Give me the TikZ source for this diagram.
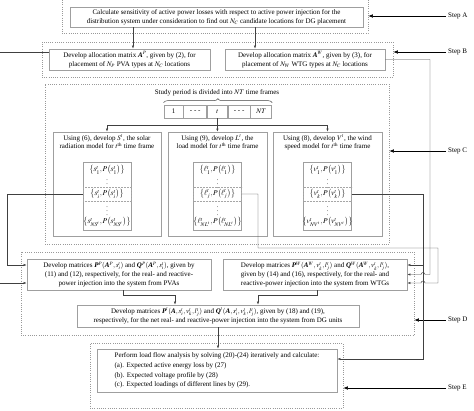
\documentclass[tikz,border=0pt]{standalone}
\usepackage{mathptmx}
\usepackage{fontspec}
\setmainfont{Liberation Serif}
\usetikzlibrary{positioning,arrows.meta,decorations.pathreplacing}

\newcommand{\bA}{\textbf{\textit{A}}}
\newcommand{\bP}{\textbf{\textit{P}}}
\newcommand{\bQ}{\textbf{\textit{Q}}}

\tikzset{
  procbox/.style={draw=gray!75, line width=0.9pt, fill=white, align=center, inner sep=0pt, font=\fontsize{7}{8.8}\selectfont},
  modelbox/.style={draw=gray!75, line width=0.9pt, fill=white, inner sep=0pt},
  boxtxt/.style={align=center, inner sep=0pt, font=\fontsize{7}{8.8}\selectfont},
  stepframe/.style={draw=gray!80, line width=0.7pt, dash pattern=on 0.7pt off 1.5pt, inner sep=0pt},
  selframe/.style={draw=gray!70, line width=0.5pt, dash pattern=on 0.5pt off 1pt, inner sep=0pt},
  conn/.style={-{Latex[length=3pt,width=2.4pt]}, draw=black!75, line width=0.45pt},
  wire/.style={draw=black!75, line width=0.45pt},
  steparrow/.style={-{Latex[length=4.5pt,width=3.5pt]}, line width=0.45pt},
  steplbl/.style={anchor=west, inner sep=2pt, font=\fontsize{7}{8}\selectfont},
  cell/.style={draw=gray!75, line width=0.7pt, minimum height=13pt, inner sep=0pt, font=\fontsize{7}{8}\selectfont},
  entry/.style={inner sep=0pt, font=\fontsize{7.5}{8}\selectfont},
  dots/.style={inner sep=0pt, font=\fontsize{6}{6}\selectfont},
}

\begin{document}
\begin{tikzpicture}[x=1pt,y=-1pt]
\useasboundingbox (0,0) rectangle (474,410);

% step frames
\node[stepframe, minimum width=306pt, minimum height=35pt] (frA) at (215,15.5) {};
\node[stepframe, minimum width=351pt, minimum height=35pt] (frB) at (217.5,59.5) {};
\node[stepframe, minimum width=344pt, minimum height=160pt] (frC) at (217,164) {};
\node[stepframe, minimum width=393pt, minimum height=83pt] (frD) at (217.5,293.5) {};
\node[stepframe, minimum width=253pt, minimum height=65pt] (frE) at (216.5,375.5) {};

% step A and B
\node[procbox, minimum width=293pt, minimum height=20pt] (boxA) at (216.5,17)
  {Calculate sensitivity of active power losses with respect to active power injection for the\\
   distribution system under consideration to find out $N_C$ candidate locations for DG placement};
\node[procbox, minimum width=161pt, minimum height=21pt] (boxAP) at (129.5,59.5)
  {Develop allocation matrix $\bA^{P}$, given by (2), for\\placement of $N_P$ PVA types at $N_C$ locations};
\node[procbox, minimum width=160pt, minimum height=21pt] (boxAW) at (305,59.5)
  {Develop allocation matrix $\bA^{W}$, given by (3), for\\placement of $N_W$ WTG types at $N_C$ locations};

% study period
\node[boxtxt] (study) at (217,93) {Study period is divided into $NT$ time frames};
\node[cell, minimum width=19pt] (c1) at (173.5,111.5) {1};
\node[cell, minimum width=23pt, right=0pt of c1] (c2) {- - -};
\node[cell, minimum width=20pt, right=0pt of c2] (ct) {$t$};
\node[cell, minimum width=22pt, right=0pt of ct] (c4) {- - -};
\node[cell, minimum width=21pt, right=0pt of c4] (cNT) {$NT$};
\draw[wire, decorate, decoration={brace, amplitude=4pt}]
  ([yshift=2pt]c1.north west) -- ([yshift=2pt]cNT.north east);

% models for the t-th time frame
\node[modelbox, minimum width=108pt, minimum height=104pt] (solar) at (107,184) {};
\node[modelbox, minimum width=99pt, minimum height=104pt] (load) at (217.5,184) {};
\node[modelbox, minimum width=109pt, minimum height=104pt] (wind) at (327.5,184) {};
\node[boxtxt, below=3pt of solar.north] (solarT)
  {Using (6), develop $S^t$, the solar\\radiation model for $t^{\mathrm{th}}$ time frame};
\node[boxtxt, below=3pt of load.north] (loadT)
  {Using (9), develop $L^t$, the\\load model for $t^{\mathrm{th}}$ time frame};
\node[boxtxt, below=3pt of wind.north] (windT)
  {Using (8), develop $V^t$, the wind\\speed model for $t^{\mathrm{th}}$ time frame};

\foreach \nm/\cx/\v/\ix/\nn in {s/107/s/i/NS, l/217.5/\ell/j/NL, v/327.5/v/k/NV} {
  \node[modelbox, minimum width=48pt, minimum height=68pt] (\nm box) at (\cx,196) {};
  \node[entry] (\nm 1) at (\cx,170) {$\big\{\v^t_1, P\big(\v^t_1\big)\big\}$};
  \node[dots] (\nm d1) at (\cx,181.3) {$\vdots$};
  \node[entry, selframe, minimum width=48pt, minimum height=14pt] (\nm sel) at (\cx,194)
    {$\big\{\v^t_\ix, P\big(\v^t_\ix\big)\big\}$};
  \node[dots] (\nm d2) at (\cx,208.5) {$\vdots$};
  \node[entry] (\nm N) at (\cx,222) {$\big\{\v^t_{\nn^t}, P\big(\v^t_{\nn^t}\big)\big\}$};
}

% step D
\node[procbox, minimum width=184pt, minimum height=31pt] (pva) at (119,274.5)
  {Develop matrices $\bP^{P}(\bA^{P}, s_i^t)$ and $\bQ^{P}(\bA^{P}, s_i^t)$, given by\\
   (11) and (12), respectively, for the real- and reactive-\\
   power injection into the system from PVAs};
\node[procbox, minimum width=184pt, minimum height=31pt] (wtg) at (315,274.5)
  {Develop matrices $\bP^{W}(\bA^{W}, v_k^t, l_j^t)$ and $\bQ^{W}(\bA^{W}, v_k^t, l_j^t)$,\\
   given by (14) and (16), respectively, for the real- and\\
   reactive-power injection into the system from WTGs};
\node[procbox, minimum width=282pt, minimum height=22pt] (dg) at (218,316)
  {Develop matrices $\bP^{t}(\bA, s_i^t, v_k^t, l_j^t)$ and $\bQ^{t}(\bA, s_i^t, v_k^t, l_j^t)$, given by (18) and (19),\\
   respectively, for the net real- and reactive-power injection into the system from DG units};

% step E
\node[procbox, align=left, minimum width=240pt, minimum height=43pt,
      font=\fontsize{7}{9.6}\selectfont] (lf) at (217,370.5)
  {Perform load flow analysis by solving (20)-(24) iteratively and calculate:\\
   (a). Expected active energy loss by (27)\\
   (b). Expected voltage profile by (28)\\
   (c). Expected loadings of different lines by (29).};

% step labels
\foreach \s/\fr/\yy in {A/frA/16, B/frB/52, C/frC/151, D/frD/320, E/frE/388} {
  \node[steplbl] (lbl\s) at (446,\yy) {Step \s};
  \draw[steparrow] (lbl\s.west) -- (lbl\s.west -| \fr.east);
}

% helper points
\path ([xshift=3.5pt]boxAP.north) coordinate (apin)
      ([xshift=-50pt]boxAW.north) coordinate (awin)
      ([yshift=7.5pt]boxAP.west) coordinate (apout)
      (ct.south) ++(0,7) coordinate (split)
      ([yshift=9.5pt]pva.west) coordinate (pvain1)
      ([yshift=-8.5pt]pva.west) coordinate (pvain2)
      ([yshift=9.5pt]wtg.east) coordinate (wtgin1)
      ([yshift=-8.5pt]wtg.east) coordinate (wtgin3)
      ([yshift=11.5pt]lf.east) coordinate (lfin)
      ([xshift=4pt]pva.south) coordinate (pvaout)
      ([xshift=2pt]wtg.south) coordinate (wtgout)
      ([xshift=-43pt]dg.north) coordinate (dgin1)
      ([xshift=40pt]dg.north) coordinate (dgin2);
\coordinate (busV) at (423,0);
\coordinate (busB) at (430,0);
\coordinate (busL) at (438,0);
\coordinate (ljog) at (258,248);
\coordinate (hopB) at (425,274.5);
\coordinate (hopL) at (425,283);

% connectors
\draw[conn] (apin |- boxA.south) -- (apin);
\draw[conn] (awin |- boxA.south) -- (awin);
\draw[conn] (ct.south) -- (ct.south |- load.north);
\draw[conn] (split) -| (solar.north);
\draw[conn] (split) -| (wind.north);
\draw[conn] (ssel.west) -- ++(-76,0) |- (pvain1);
\draw[conn] (apout) -- ++(-60,0) |- (pvain2);
\draw[conn] (vsel.east) -| (busV |- wtgin1) -- (wtgin1);
\draw[conn] (busV |- wtgin1) |- (lfin);
\draw[conn] (boxAW.east) -- (boxAW.east -| busB) -- (busB |- hopB) -- (hopB)
  arc[start angle=0, end angle=-180, radius=2] -- (wtg.east);
\draw[conn] (lsel.east) -| (ljog) -- (ljog -| busL) -- (busL |- hopL) -- (hopL)
  arc[start angle=0, end angle=-180, radius=2] -- (wtgin3);
\draw[conn] (pvaout) -- ++(0,5) -| (dgin1);
\draw[conn] (wtgout) -- ++(0,5) -| (dgin2);
\draw[conn] (dg.south) -- (dg.south |- lf.north);
\end{tikzpicture}
\end{document}
